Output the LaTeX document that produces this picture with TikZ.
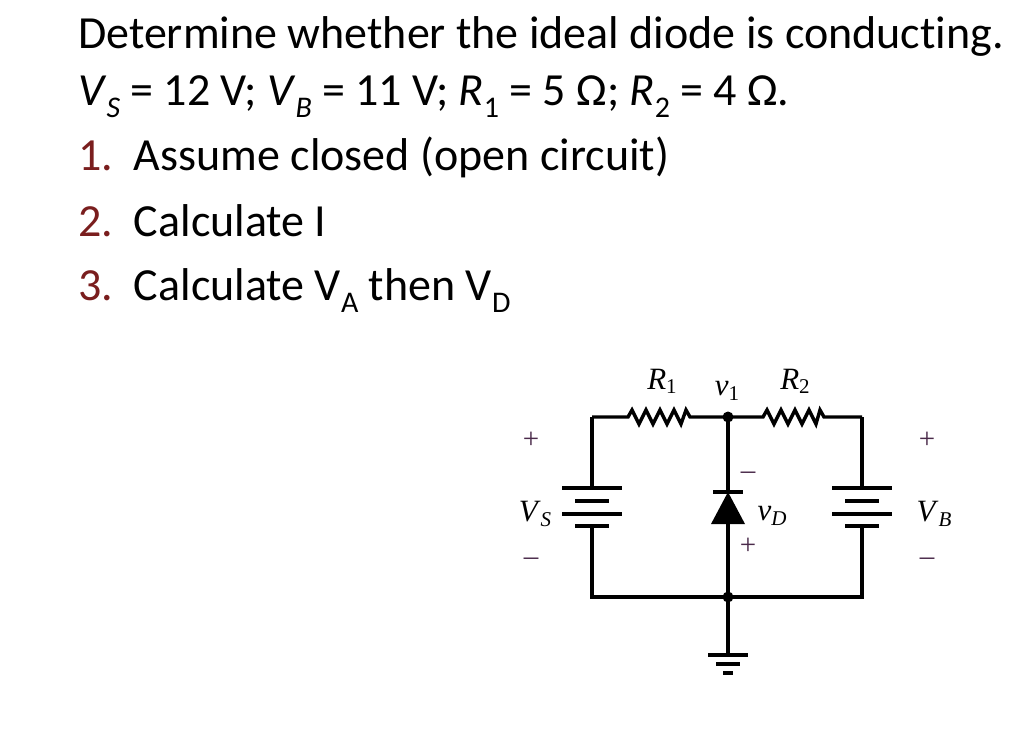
\documentclass[tikz,border=0pt]{standalone}
\usepackage{fontspec}
\setmainfont{Carlito}[Ligatures=NoCommon]
\newfontfamily\tms{Liberation Serif}
\definecolor{numred}{HTML}{7A1E1E}
\definecolor{sgn}{HTML}{4A2A4A}
\newcommand{\mysb}[1]{\raisebox{-0.55ex}{\fontsize{30}{30}\selectfont #1}}
\begin{document}
\begin{tikzpicture}[x=1pt,y=-1pt,
  wire/.style={line width=3.4pt,line join=miter},
  txt/.style={anchor=base west,inner sep=0,font=\fontsize{46}{46}\selectfont},
  lbl/.style={inner sep=0,font=\tms\fontsize{31}{31}\selectfont},
  sg/.style={inner sep=0,text=sgn,font=\tms\fontsize{29}{29}\selectfont}]
\useasboundingbox (0,0) rectangle (1024,731);
\node[txt] (l1) at (78,48) {Determine whether the ideal diode is conducting.};
\node[txt] (l2) at (78,105) {\textit{V}\mysb{\textit{S}} = 12 V; \textit{V}\mysb{\textit{B}} = 11 V; \textit{R}\mysb{1} = 5 Ω; \textit{R}\mysb{2} = 4 Ω.};
\node[txt] (l3) at (78,170) {\textcolor{numred}{1.}\ \ Assume closed (open circuit)};
\node[txt] (l4) at (78,236) {\textcolor{numred}{2.}\ \ Calculate I};
\node[txt] (l5) at (78,300) {\textcolor{numred}{3.}\ \ Calculate V\mysb{A} then V\mysb{D}};
% nodes
\coordinate (tl) at (592,417);
\coordinate (tm) at (728,417);
\coordinate (tr) at (862,417);
\coordinate (bl) at (592,597);
\coordinate (bm) at (728,597);
\coordinate (br) at (862,597);
\coordinate (g) at (728,655);
% resistors
\draw[wire] (tl) -- (628,417) -- (632,410) -- (639,424) -- (646,410) -- (653,424) -- (660,410) -- (667,424) -- (674,410) -- (681,424) -- (686,410) -- (690,417) -- (tm);
\draw[wire] (tm) -- (763,417) -- (767,410) -- (774,424) -- (781,410) -- (788,424) -- (795,410) -- (802,424) -- (809,410) -- (816,424) -- (820,410) -- (824,417) -- (tr);
% batteries
\draw[wire] (tl) -- (592,488);
\draw[wire] (592,526) -- (bl) -- (br) -- (862,526);
\draw[wire] (862,488) -- (tr);
\foreach \x in {592,862}{
  \draw[wire] (\x-30,488) -- (\x+30,488);
  \draw[wire] (\x-17,501) -- (\x+17,501);
  \draw[wire] (\x-30,514) -- (\x+30,514);
  \draw[wire] (\x-17,526) -- (\x+17,526);
}
% diode
\draw[wire] (tm) -- (728,492);
\draw[wire] (713,492) -- (743,492);
\fill (728,492) -- (745,524) -- (711,524) -- cycle;
\draw[wire] (728,522) -- (bm) -- (g);
\draw[wire] (708,655) -- (748,655);
\draw[wire] (716,664) -- (740,664);
\draw[wire] (723,673) -- (733,673);
\fill (tm) circle (5.5);
\fill (bm) circle (5.5);
% labels
\node[lbl] (r1) at (662,381) {\textit{R}\raisebox{-0.3ex}{\fontsize{21}{21}\selectfont 1}};
\node[lbl] (r2) at (795,381) {\textit{R}\raisebox{-0.3ex}{\fontsize{21}{21}\selectfont 2}};
\node[lbl] (v1) at (727,391) {\textit{v}\raisebox{-0.3ex}{\fontsize{21}{21}\selectfont 1}};
\node[lbl] (vd) at (772,516) {\textit{v}\raisebox{-0.3ex}{\fontsize{21}{21}\itshape\selectfont D}};
\node[lbl] (vs) at (535,514) {\textit{V}\raisebox{-0.3ex}{\fontsize{21}{21}\itshape\selectfont S}};
\node[lbl] (vb) at (934,514) {\textit{V}\raisebox{-0.3ex}{\fontsize{21}{21}\itshape\selectfont B}};
\node[sg] (p1) at (531,440) {+};
\node[sg] (m1) at (531,562) {\textendash};
\node[sg] (p2) at (927,440) {+};
\node[sg] (m2) at (927,562) {\textendash};
\node[sg] (md) at (748,476) {\textendash};
\node[sg] (pd) at (748,546) {+};
\end{tikzpicture}
\end{document}
